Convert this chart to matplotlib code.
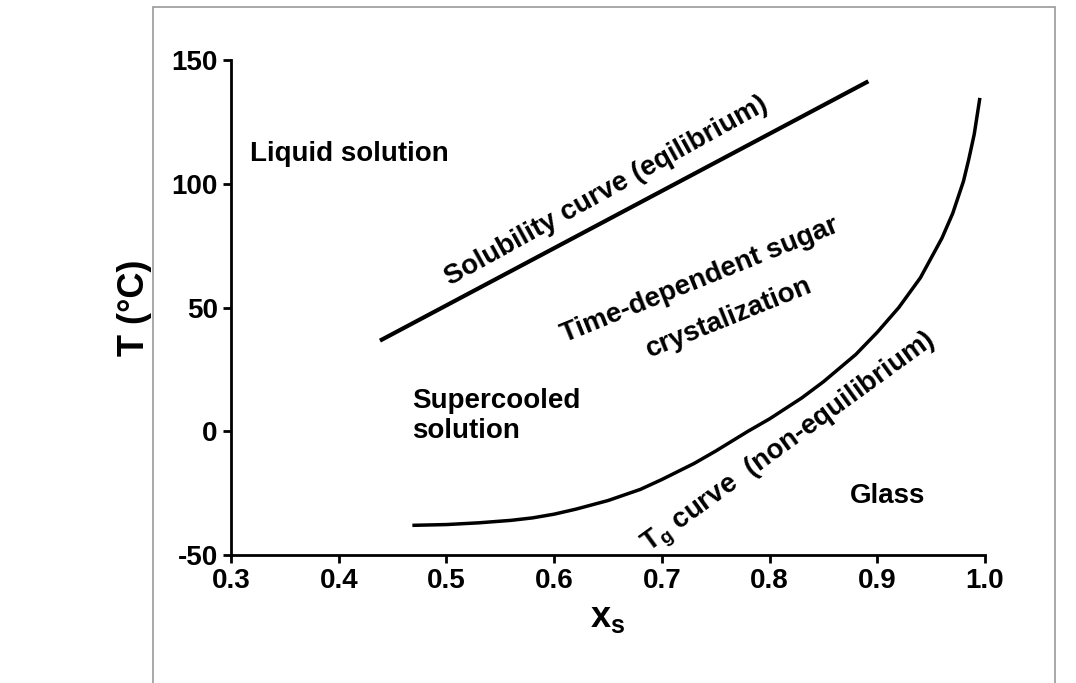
import matplotlib
matplotlib.use("Agg")
import matplotlib.pyplot as plt
from matplotlib.patches import Rectangle

plt.rcParams['font.family'] = ['Liberation Sans', 'DejaVu Sans']
plt.rcParams['font.weight'] = 'bold'
plt.rcParams['axes.unicode_minus'] = False

# solubility curve (equilibrium)
sol_x = [0.44, 0.89]
sol_T = [37, 141]

# Tg curve (non-equilibrium)
tg_x = [0.47, 0.50, 0.53, 0.56, 0.58, 0.60, 0.62, 0.65, 0.68, 0.70, 0.73, 0.75, 0.78, 0.80, 0.83, 0.85,
        0.88, 0.90, 0.92, 0.94, 0.95, 0.96, 0.97, 0.98, 0.985, 0.99, 0.995]
tg_T = [-38, -37.7, -37, -36, -35, -33.5, -31.5, -28, -23.5, -19.5, -13, -8, 0, 5, 13.5, 20,
        31, 40, 50, 62, 70, 78, 88, 101, 110, 120, 134]

xticks = [0.3, 0.4, 0.5, 0.6, 0.7, 0.8, 0.9, 1.0]
yticks = [-50, 0, 50, 100, 150]

fig = plt.figure(figsize=(10.76, 6.83), dpi=100)
fig.patches.append(Rectangle((153 / 1076, -0.01), (1055 - 153) / 1076, 1.0, transform=fig.transFigure,
                             fill=False, edgecolor='#999999', linewidth=1.2))
ax = fig.add_axes([231 / 1076, 128 / 683, 754 / 1076, 495 / 683])

ax.plot(sol_x, sol_T, color='black', linewidth=3)
ax.plot(tg_x, tg_T, color='black', linewidth=2.5)

ax.set_xlim(0.3, 1.0)
ax.set_ylim(-50, 150)
ax.set_xticks(xticks)
ax.set_xticklabels([f"{v:.1f}" for v in xticks])
ax.set_yticks(yticks)
ax.tick_params(labelsize=20, width=2, length=6)
ax.spines['top'].set_visible(False)
ax.spines['right'].set_visible(False)
ax.spines['left'].set_linewidth(2)
ax.spines['bottom'].set_linewidth(2)
ax.set_xlabel(r"x$_\mathregular{s}$", fontsize=26, fontweight='bold')
ax.set_ylabel("T (°C)", fontsize=26, fontweight='bold', labelpad=14)

kw = dict(fontsize=20, fontweight='bold')
ax.text(0.318, 112, "Liquid solution", va='center', ha='left', **kw)
ax.text(0.648, 97, "Solubility curve (eqilibrium)", rotation=29, ha='center', va='center', **kw)
ax.text(0.735, 61, "Time-dependent sugar", rotation=22, ha='center', va='center', **kw)
ax.text(0.762, 46, "crystalization", rotation=22, ha='center', va='center', **kw)
ax.text(0.468, 6, "Supercooled\nsolution", ha='left', va='center', linespacing=1.2, **kw)
ax.text(0.818, -5, r"T$_\mathregular{g}$ curve  (non-equilibrium)", rotation=36, ha='center', va='center', **kw)
ax.text(0.91, -26, "Glass", ha='center', va='center', **kw)

fig.savefig("out.png", dpi=100)
